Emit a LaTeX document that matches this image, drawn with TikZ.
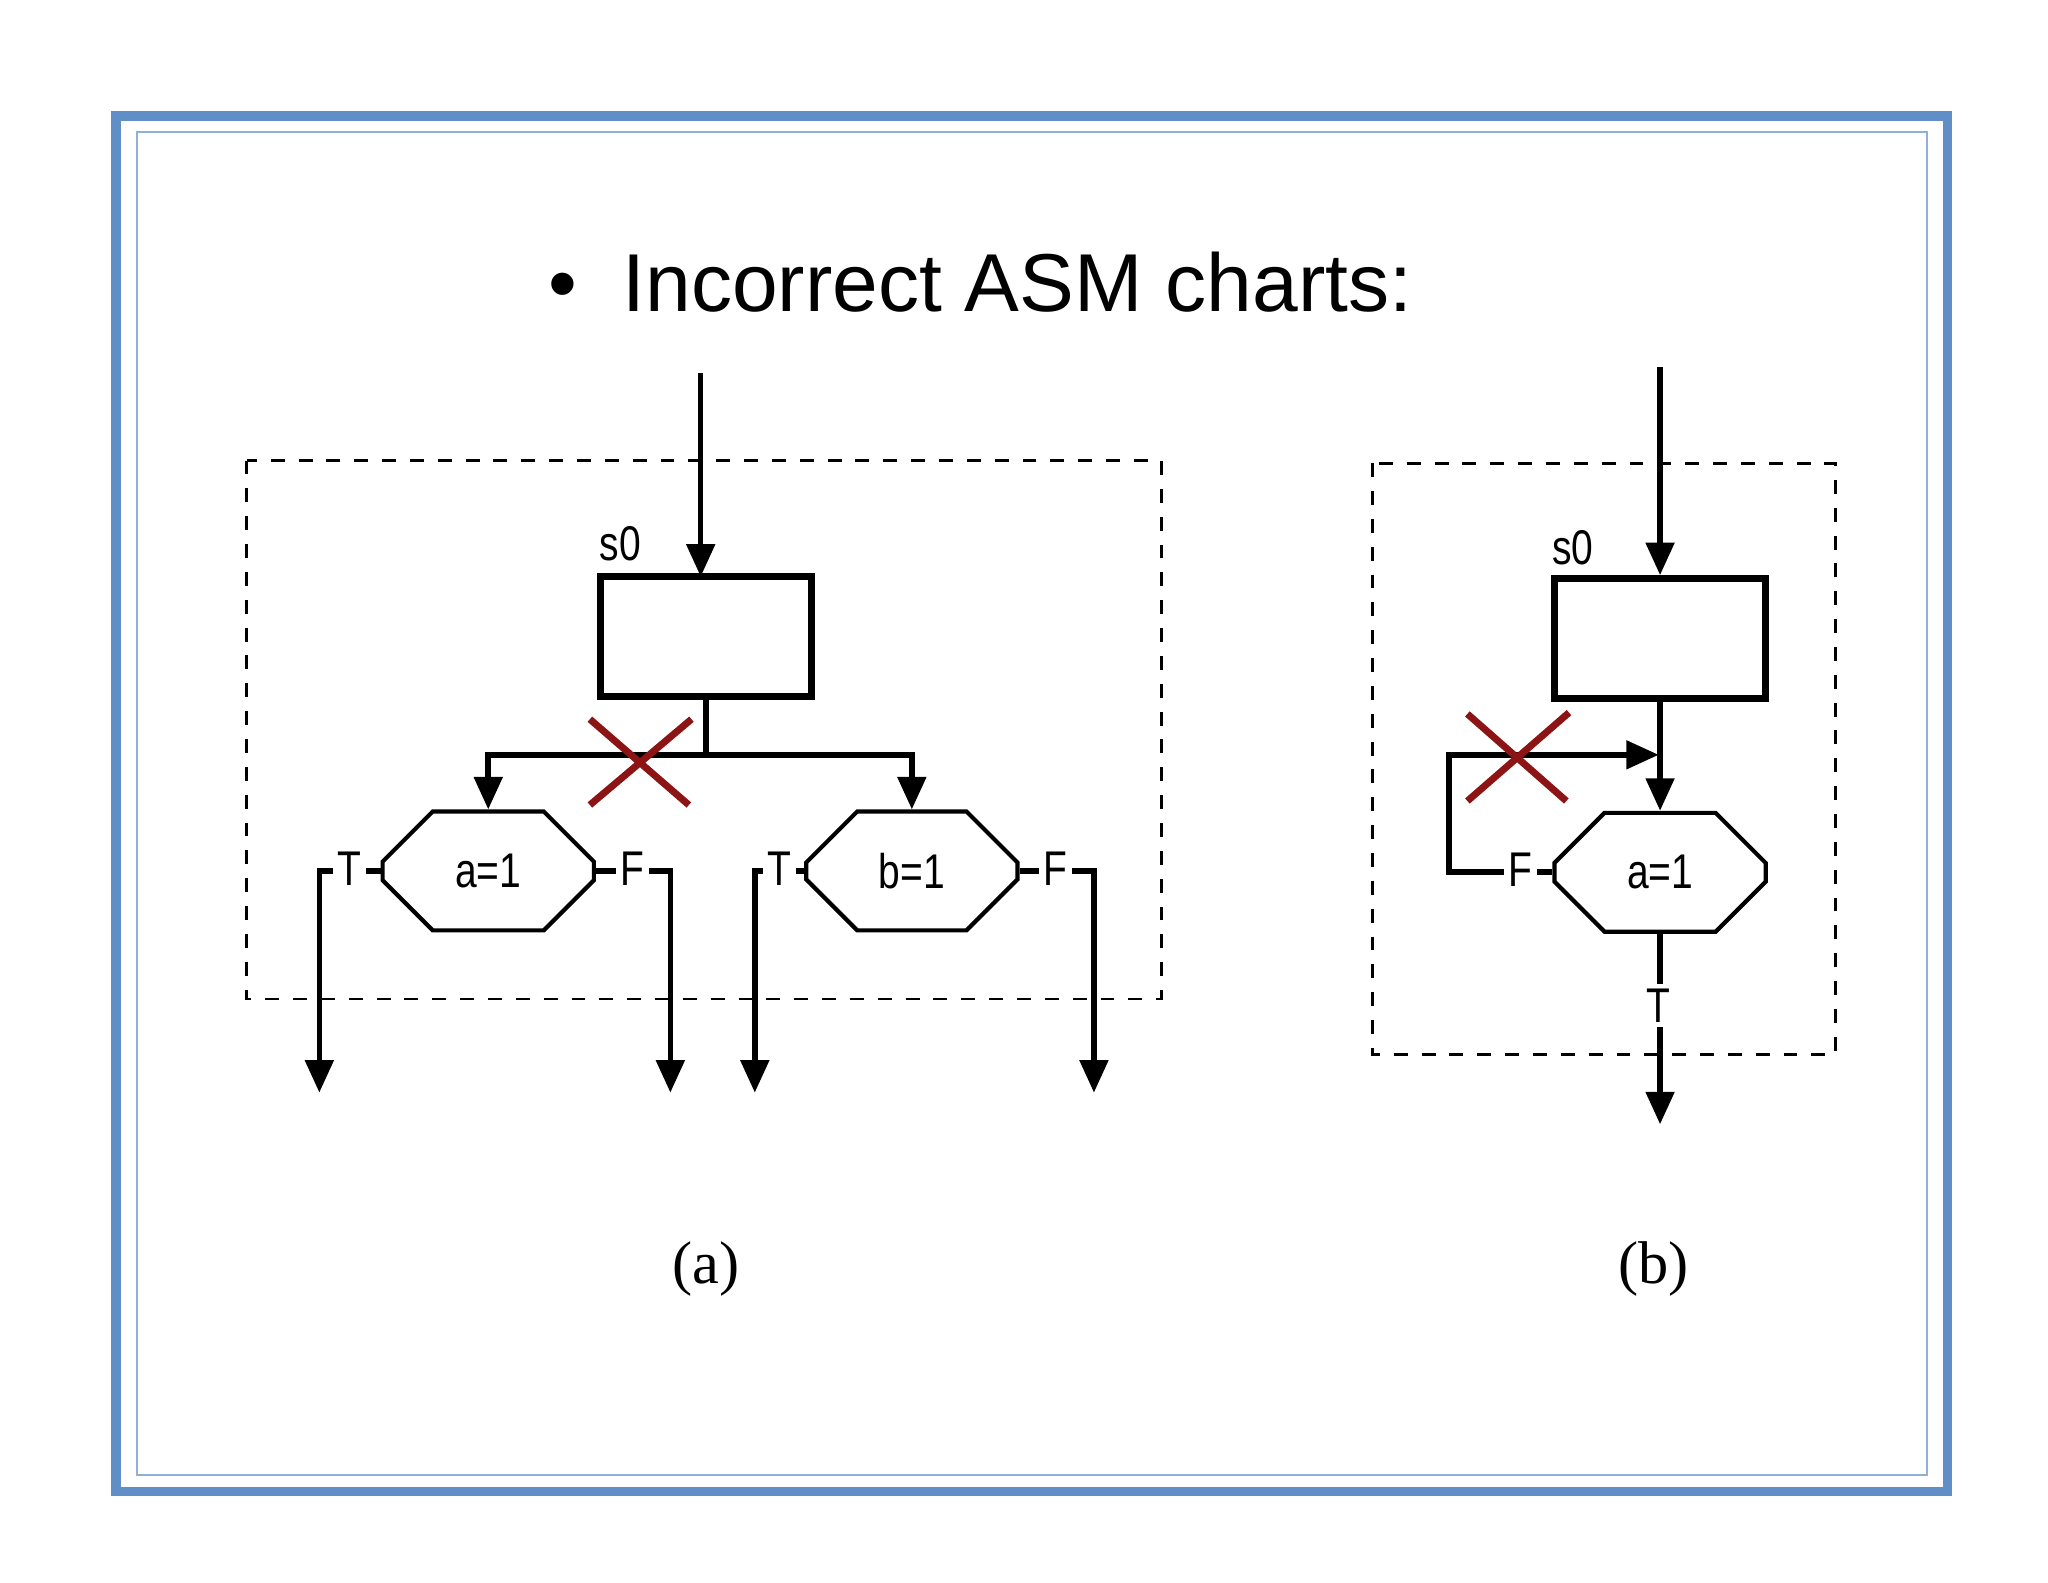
\documentclass[tikz,border=0pt]{standalone}
\usepackage{fontspec}
\setmainfont{Liberation Sans}
\newfontfamily\narrowf[FakeStretch=0.8]{Liberation Sans}
\newfontfamily\serf{Liberation Serif}
\usetikzlibrary{arrows.meta,shapes.misc}
\definecolor{frameblue}{RGB}{96,142,198}
\definecolor{xred}{RGB}{140,20,20}
\begin{document}
\begin{tikzpicture}[x=0.01cm,y=-0.01cm,
  ln/.style={line width=1.2pt,-{Triangle[length=7pt,width=6pt]}},
  pl/.style={line width=1.2pt},
  st/.style={draw,line width=1.5pt,minimum width=1.6cm,minimum height=0.91cm,inner sep=0pt},
  hex/.style={draw,line width=0.9pt,minimum width=1.6cm,minimum height=0.9cm,inner sep=0pt,
    chamfered rectangle,chamfered rectangle xsep=0.4cm,chamfered rectangle ysep=0.45cm,
    font=\narrowf\fontsize{10.5}{12}\selectfont},
  lab/.style={font=\narrowf\fontsize{10.5}{12}\selectfont,fill=white,inner sep=1pt},
  xx/.style={xred,line width=1.5pt},
  dbox/.style={draw,dashed,line width=0.6pt}]
\useasboundingbox (0,0) rectangle (1552,1199);
\draw[frameblue,line width=2pt] (88,88) rectangle (1476,1130);
\draw[frameblue!70,line width=0.4pt] (104,100) rectangle (1460,1118);
\node[anchor=base west,font=\fontsize{17.7}{22}\selectfont] (title) at (403,236) {\textbullet\ \ Incorrect ASM charts:};
% (a)
\draw[dbox] (187,349) rectangle (880,757);
\coordinate (ina) at (531,283);
\node[st] (sa) at (535,482.5) {};
\node[lab,fill=none] (s0a) at (470,412) {s0};
\draw[ln] (ina) -- (531,437);
\coordinate (ja) at (535,572);
\node[hex] (ha) at (370,660) {a=1};
\node[hex] (hb) at (691,660) {b=1};
\draw[pl] (sa.south) -- (ja);
\draw[ln] (ja) -| (ha.north);
\draw[ln] (ja) -| (hb.north);
\coordinate (ta) at (242,828); \coordinate (fa) at (508,828);
\coordinate (tb) at (572,828); \coordinate (fb) at (829,828);
\draw[ln] (ha.west) -- (242,660) -- (ta);
\draw[ln] (ha.east) -- (508,660) -- (fa);
\draw[ln] (hb.west) -- (572,660) -- (tb);
\draw[ln] (hb.east) -- (829,660) -- (fb);
\node[lab] at (265,658) {T};
\node[lab] at (479,658) {F};
\node[lab] at (591,658) {T};
\node[lab] at (800,658) {F};
\draw[xx] (447,545) -- (522,610) (447,610) -- (524,545);
% (b)
\draw[dbox] (1040,351) rectangle (1391,799);
\coordinate (inb) at (1258,278);
\node[st] (sb) at (1258,484) {};
\node[lab,fill=none] (s0b) at (1192,415) {s0};
\draw[ln] (inb) -- (sb.north);
\node[hex] (hc) at (1258,661) {a=1};
\draw[ln] (sb.south) -- (hc.north);
\coordinate (jb) at (1257,572);
\draw[ln] (hc.west) -- (1098,661) -- (1098,572) -- (jb);
\node[lab] at (1152,659) {F};
\coordinate (ob) at (1258,852);
\draw[ln] (hc.south) -- (ob);
\node[lab] at (1257,762) {T};
\draw[xx] (1112,541) -- (1187,607) (1112,607) -- (1189,540);
\node[font=\serf\fontsize{13}{15}\selectfont] (capa) at (535,962) {(a)};
\node[font=\serf\fontsize{13}{15}\selectfont] (capb) at (1253,962) {(b)};
\end{tikzpicture}
\end{document}
